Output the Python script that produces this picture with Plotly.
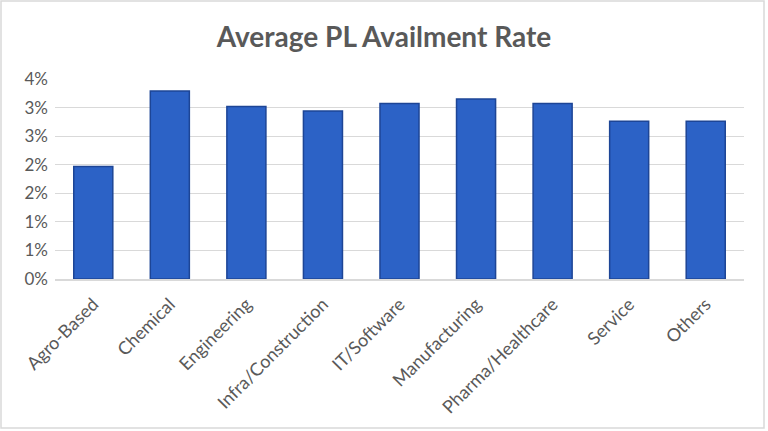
import plotly.graph_objects as go

# values (fraction, shown as %)
sectors = [
    "Agro-Based", "Chemical", "Engineering", "Infra/Construction", "IT/Software",
    "Manufacturing", "Pharma/Healthcare", "Service", "Others",
]
pl_availment_rate = [0.0197, 0.0329, 0.0302, 0.0294, 0.0307, 0.0315, 0.0307, 0.0276, 0.0276]

y_ticks = [0, 0.005, 0.01, 0.015, 0.02, 0.025, 0.03, 0.035]

gray_text = "#595959"
font_family = "Lato, 'Open Sans', sans-serif"

fig = go.Figure()
fig.add_trace(
    go.Bar(
        x=sectors,
        y=pl_availment_rate,
        marker=dict(color="#2C62C6", line=dict(color="#1D4596", width=1.5)),
        hoverinfo="x+y",
    )
)

# light frame round the chart area, like the exported picture
W, H = 768, 431
ml, mr, mt, mb = 55, 24, 79, 152
pw, ph = W - ml - mr, H - mt - mb
fig.add_shape(
    type="rect", xref="paper", yref="paper",
    x0=-(ml - 1) / pw, x1=1 + (mr - 4) / pw,
    y0=-(mb - 3) / ph, y1=1 + (mt - 1) / ph,
    line=dict(color="#D9D9D9", width=1.5), layer="below",
)

fig.update_layout(
    width=W,
    height=H,
    title=dict(
        text="<b>Average PL Availment Rate</b>",
        x=0.5,
        xanchor="center",
        y=1 - 37 / H,
        yanchor="middle",
        font=dict(family=font_family, size=28, color=gray_text),
    ),
    font=dict(family=font_family, size=17, color=gray_text),
    paper_bgcolor="white",
    plot_bgcolor="white",
    bargap=0.49,
    showlegend=False,
    margin=dict(l=ml, r=mr, t=mt, b=mb),
    xaxis=dict(
        tickangle=-45,
        showgrid=False,
        showline=True,
        linecolor="#D9D9D9",
        linewidth=1.5,
        ticks="",
        ticklabelstandoff=6,
        tickfont=dict(size=18, color=gray_text),
    ),
    yaxis=dict(
        range=[0, 0.035],
        tickvals=y_ticks,
        tickformat=".0%",
        showgrid=True,
        gridcolor="#D9D9D9",
        gridwidth=1,
        zeroline=False,
        showline=False,
        ticks="",
        ticklabelstandoff=6,
        tickfont=dict(size=17, color=gray_text),
    ),
)

fig.write_html(
    "out.html",
    config={"displayModeBar": False},
    post_script="document.body.style.margin='0';document.body.style.overflow='hidden';",
)
